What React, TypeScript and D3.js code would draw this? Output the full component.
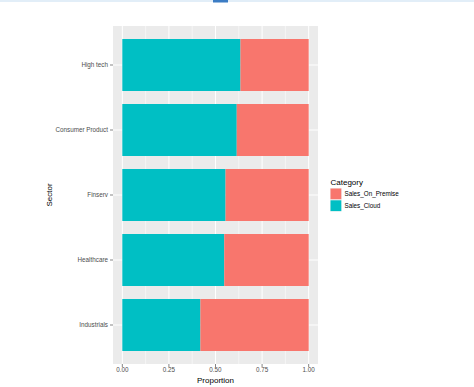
import * as d3 from 'd3';
import { useMemo } from 'react';

// Data
const sectors = ['High tech', 'Consumer Product', 'Finserv', 'Healthcare', 'Industrials'];
const salesCloud = [0.634, 0.614, 0.554, 0.547, 0.419];
const salesOnPremise = [0.366, 0.386, 0.446, 0.453, 0.581];
const xTicks = [0, 0.25, 0.5, 0.75, 1];
const categories = ['Sales_On_Premise', 'Sales_Cloud'];

const COLORS: Record<string, string> = {
  Sales_On_Premise: '#F8766D',
  Sales_Cloud: '#00BFC4',
};

const width = 474;
const height = 387;
const PANEL = { left: 113, right: 318, top: 26, bottom: 364 };
const FONT = '"Liberation Sans", Arial, Helvetica, sans-serif';

export default function App() {
  const rows = sectors.map((s, i) => ({
    sector: s,
    Sales_Cloud: salesCloud[i],
    Sales_On_Premise: salesOnPremise[i],
  }));

  // ggplot style: 5% expansion on each side of the continuous scale
  const xScale = useMemo(() => {
    const span = PANEL.right - PANEL.left;
    const pad = span / 1.1 * 0.05;
    return d3.scaleLinear().domain([0, 1]).range([PANEL.left + pad, PANEL.right - pad]);
  }, []);

  const yScale = useMemo(() => {
    return d3.scaleBand<string>()
      .domain(sectors)
      .range([PANEL.top, PANEL.bottom])
      .paddingInner(0.2)
      .paddingOuter(0.2);
  }, []);

  // cloud stacked first (left), on premise after
  const stacked = d3.stack<any>().keys(['Sales_Cloud', 'Sales_On_Premise'])(rows);

  const minorTicks = xTicks.slice(0, -1).map((t, i) => (t + xTicks[i + 1]) / 2);
  const fmt = d3.format('.2f');

  return (
    <svg
      width={width}
      height={height}
      style={{ position: 'absolute', left: 0, top: 0, background: '#fff' }}
      fontFamily={FONT}
    >
      {/* page strip at the very top of the screenshot */}
      <rect x={0} y={0} width={width} height={2} fill="#e2eef8" />
      <rect x={213} y={0} width={15} height={2.5} fill="#3b7cc4" />

      {/* panel */}
      <rect
        x={PANEL.left}
        y={PANEL.top}
        width={PANEL.right - PANEL.left}
        height={PANEL.bottom - PANEL.top}
        fill="#EBEBEB"
      />
      {minorTicks.map((t) => (
        <line key={'m' + t} x1={xScale(t)} x2={xScale(t)} y1={PANEL.top} y2={PANEL.bottom}
          stroke="#fff" strokeWidth={0.5} />
      ))}
      {xTicks.map((t) => (
        <line key={'g' + t} x1={xScale(t)} x2={xScale(t)} y1={PANEL.top} y2={PANEL.bottom}
          stroke="#fff" strokeWidth={1} />
      ))}
      {sectors.map((s) => {
        const cy = (yScale(s) ?? 0) + yScale.bandwidth() / 2;
        return <line key={'h' + s} x1={PANEL.left} x2={PANEL.right} y1={cy} y2={cy} stroke="#fff" strokeWidth={1} />;
      })}

      {/* bars */}
      {stacked.map((layer) => (
        <g key={layer.key} fill={COLORS[layer.key]}>
          {layer.map((d, i) => (
            <rect
              key={sectors[i]}
              x={xScale(d[0])}
              y={yScale(sectors[i])}
              width={xScale(d[1]) - xScale(d[0])}
              height={yScale.bandwidth()}
            />
          ))}
        </g>
      ))}

      {/* y axis */}
      {sectors.map((s) => {
        const cy = (yScale(s) ?? 0) + yScale.bandwidth() / 2;
        return (
          <g key={'y' + s}>
            <line x1={PANEL.left - 3} x2={PANEL.left} y1={cy} y2={cy} stroke="#333" strokeWidth={0.6} />
            <text x={PANEL.left - 5} y={cy} dy="0.35em" textAnchor="end" fontSize={6.3} fill="#4D4D4D">
              {s}
            </text>
          </g>
        );
      })}

      {/* x axis */}
      {xTicks.map((t) => (
        <g key={'x' + t}>
          <line x1={xScale(t)} x2={xScale(t)} y1={PANEL.bottom} y2={PANEL.bottom + 3} stroke="#333" strokeWidth={0.6} />
          <text x={xScale(t)} y={PANEL.bottom + 8} textAnchor="middle" fontSize={6.3} fill="#4D4D4D">
            {fmt(t)}
          </text>
        </g>
      ))}

      {/* axis titles */}
      <text x={(PANEL.left + PANEL.right) / 2} y={383} textAnchor="middle" fontSize={8} fill="#000">
        Proportion
      </text>
      <text
        transform={`translate(52,${(PANEL.top + PANEL.bottom) / 2}) rotate(-90)`}
        textAnchor="middle"
        fontSize={8}
        fill="#000"
      >
        Sector
      </text>

      {/* legend */}
      <text x={330.5} y={185} fontSize={8} fill="#000">Category</text>
      {categories.map((c, i) => (
        <g key={c} transform={`translate(330,${188 + i * 11.8})`}>
          <rect x={0} y={0} width={11.8} height={11.8} fill="#F2F2F2" />
          <rect x={0.5} y={0.5} width={10.8} height={10.8} fill={COLORS[c]} />
          <text x={14.5} y={5.9} dy="0.35em" fontSize={6.3} fill="#000">{c}</text>
        </g>
      ))}
    </svg>
  );
}
